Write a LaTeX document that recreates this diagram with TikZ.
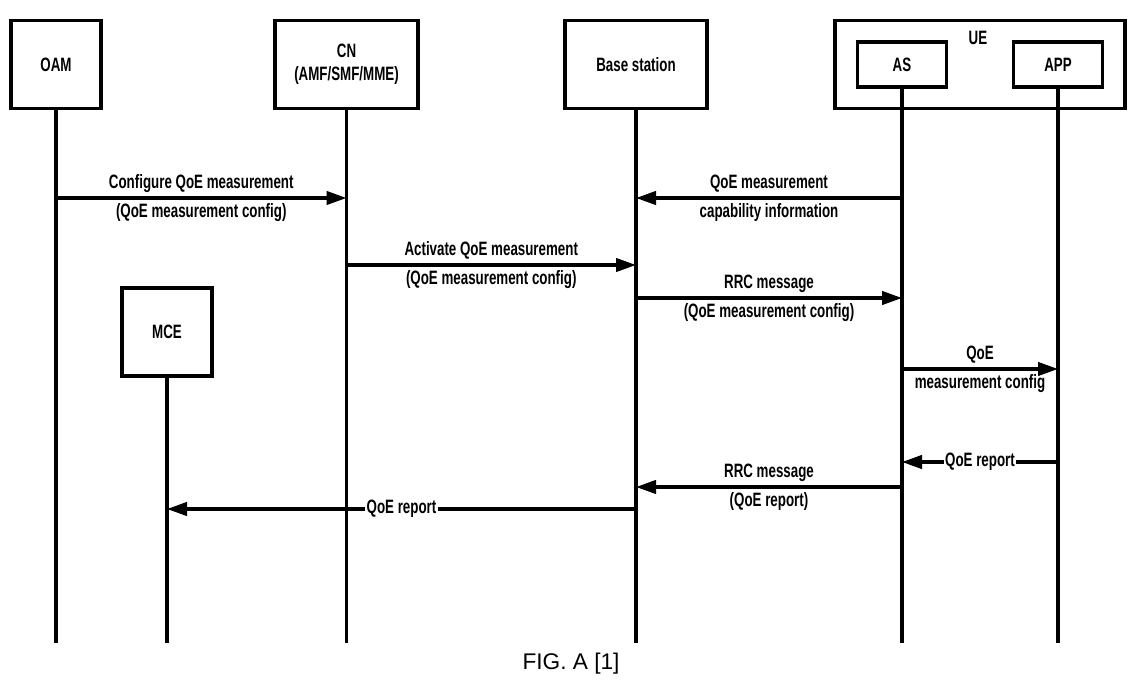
\documentclass[tikz,border=0pt]{standalone}
\usepackage{fontspec}
\setmainfont{Liberation Sans}[FakeStretch=0.69]
\newfontfamily\capfont{Liberation Sans}
\usetikzlibrary{arrows.meta,calc}
\tikzset{
  ent-box/.style={draw,line width=2.6pt,fill=white,inner sep=0pt,
    minimum height=66pt,align=center,font=\bfseries\fontsize{14.5}{17}\selectfont},
  app-box/.style={ent-box,minimum height=34pt,minimum width=67pt},
  lifeline/.style={line width=2.4pt},
  msg/.style={-{Triangle[length=15pt,width=10pt]},line width=2.4pt},
  msg-lbl/.style={font=\bfseries\fontsize{14.5}{17}\selectfont,inner sep=3pt},
  msg-inline/.style={msg-lbl,fill=white,inner sep=1pt},
}

\begin{document}
\begin{tikzpicture}[x=0.75pt,y=-0.75pt]
  \useasboundingbox (0,0) rectangle (1142,699);

  % entities
  \node[ent-box,minimum width=67.5pt] (oam) at (56,64.5) {OAM};
  \node[ent-box,minimum width=107pt] (cn) at (346.5,64.5) {CN\\(AMF/SMF/MME)};
  \node[ent-box,minimum width=106.5pt] (bs) at (636,64.5) {Base station};
  \node[ent-box,minimum width=217.5pt] (ue) at (980,64.5) {};
  \node[font=\bfseries\fontsize{14.5}{17}\selectfont] (ue-lbl) at (978,38) {UE};
  \node[app-box] (as) at (902,64.5) {AS};
  \node[app-box] (app) at (1058,64.5) {APP};
  \node[ent-box,minimum width=67.5pt] (mce) at (167,332) {MCE};

  % lifelines
  \coordinate (bottom) at (0,643);
  \foreach \e in {oam,cn,bs,as,app,mce}
    \draw[lifeline] (\e.south) -- (\e.south |- bottom);

  % messages
  \coordinate (m1) at (0,198);
  \coordinate (m2) at (0,265);
  \coordinate (m3) at (0,298);
  \coordinate (m4) at (0,369);
  \coordinate (m5) at (0,462);
  \coordinate (m6) at (0,487);
  \coordinate (m7) at (0,509);

  \draw[msg] (oam.south |- m1) -- (cn.south |- m1)
    node[msg-lbl,midway,above] {Configure QoE measurement}
    node[msg-lbl,midway,below] {(QoE measurement config)};
  \draw[msg] (as.south |- m1) -- (bs.south |- m1)
    node[msg-lbl,midway,above] {QoE measurement}
    node[msg-lbl,midway,below] {capability information};
  \draw[msg] (cn.south |- m2) -- (bs.south |- m2)
    node[msg-lbl,midway,above] {Activate QoE measurement}
    node[msg-lbl,midway,below] {(QoE measurement config)};
  \draw[msg] (bs.south |- m3) -- (as.south |- m3)
    node[msg-lbl,midway,above] {RRC message}
    node[msg-lbl,midway,below] {(QoE measurement config)};
  \draw[msg] (as.south |- m4) -- (app.south |- m4)
    node[msg-lbl,midway,above] {QoE}
    node[msg-lbl,midway,below] {measurement config};
  \draw[msg] (app.south |- m5) -- (as.south |- m5)
    node[msg-inline,midway] {QoE report};
  \draw[msg] (as.south |- m6) -- (bs.south |- m6)
    node[msg-lbl,midway,above] {RRC message}
    node[msg-lbl,midway,below] {(QoE report)};
  \draw[msg] (bs.south |- m7) -- (mce.south |- m7)
    node[msg-inline,midway] {QoE report};

  \node[font=\capfont\fontsize{17}{20}\selectfont] (caption) at (571,664) {FIG. A [1]};
\end{tikzpicture}
\end{document}
